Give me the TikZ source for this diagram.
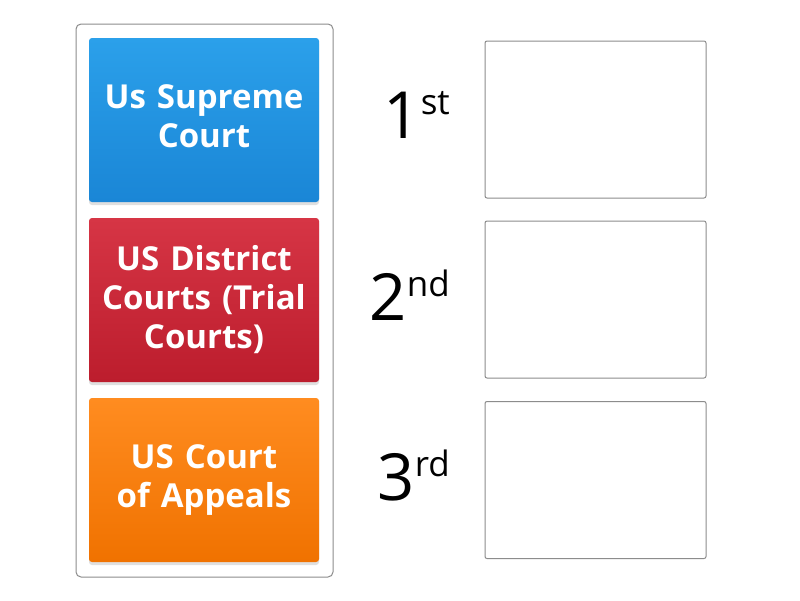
\documentclass[tikz,border=0pt]{standalone}
\usepackage{fontspec}
\setmainfont{Open Sans}
\usetikzlibrary{shadows}
\definecolor{bluetop}{HTML}{2BA0EA}
\definecolor{bluebot}{HTML}{1A86D6}
\definecolor{redtop}{HTML}{D63545}
\definecolor{redbot}{HTML}{BC1D2D}
\definecolor{orgtop}{HTML}{FF8C20}
\definecolor{orgbot}{HTML}{F07200}
\definecolor{frame}{HTML}{8C8C8C}
\tikzset{
  panel/.style={draw=frame, line width=1pt, rounded corners=5pt, fill=white, minimum width=257pt, minimum height=553pt},
  tile/.style={rounded corners=3pt, minimum width=230pt, minimum height=164pt, text width=222pt, align=center,
    text=white, font=\fontsize{33}{39}\selectfont\bfseries,
    drop shadow={opacity=0.25, shadow xshift=0pt, shadow yshift=-3pt}},
  slot/.style={draw=frame, line width=1pt, rounded corners=2pt, fill=white, minimum width=221pt, minimum height=157pt},
  ordinal/.style={anchor=base east, inner sep=0pt, font=\fontsize{65}{65}\selectfont}
}
\newcommand{\supx}[1]{\raisebox{24pt}{\fontsize{35}{35}\selectfont #1}}
\begin{document}
\begin{tikzpicture}[x=1pt,y=-1pt]
\useasboundingbox (0,0) rectangle (800,600);
\fill[white] (0,0) rectangle (800,600);
\node[panel] (panel) at (204.5,300.5) {};
\node[tile, top color=bluetop, bottom color=bluebot] (t1) at (204,120) {Us Supreme\\Court\vphantom{g}};
\node[tile, top color=redtop, bottom color=redbot] (t2) at (204,300) {US District\\Courts (Trial\\Courts)};
\node[tile, top color=orgtop, bottom color=orgbot] (t3) at (204,480) {US Court\\of Appeals};
\node[slot] (s1) at (595.5,119.5) {};
\node[slot] (s2) at (595.5,299.5) {};
\node[slot] (s3) at (595.5,480) {};
\node[ordinal] (o1) at (450,138) {1\supx{st}};
\node[ordinal] (o2) at (450,320) {2\supx{nd}};
\node[ordinal] (o3) at (450,500) {3\supx{rd}};
\end{tikzpicture}
\end{document}
